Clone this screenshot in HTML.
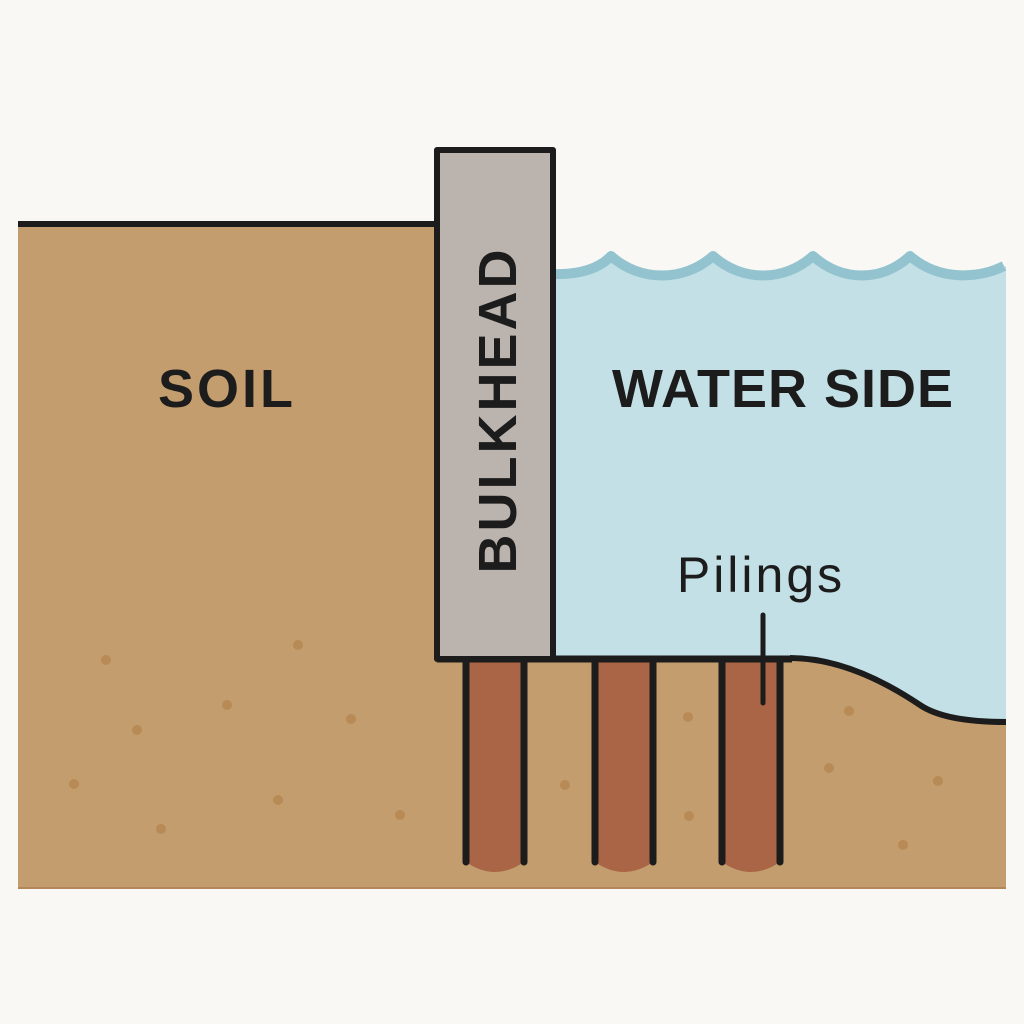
<!DOCTYPE html>
<html><head><style>body{margin:0;background:#f9f8f4}</style></head><body>
<svg width="1024" height="1024" viewBox="0 0 1024 1024" xmlns="http://www.w3.org/2000/svg" style="display:block">
<rect width="1024" height="1024" fill="#f9f8f4"/>
<rect x="18" y="224" width="440" height="664" fill="#c39d6d"/>
<rect x="18" y="640" width="988" height="248" fill="#c39d6d"/>
<line x1="18" y1="888" x2="1006" y2="888" stroke="#b4875a" stroke-width="2"/>
<path d="M553 274 C580 275 600 268 611 256 C640 282 684 282 713 256 C742 282 784 282 813 256 C842 282 882 282 910 256 C940 282 980 278 1006 266 L1006 722 Q945 722 920 705 Q850 658 790 658 L553 658 Z" fill="#c3e0e6"/>
<path d="M553 274 C580 275 600 268 611 256 C640 282 684 282 713 256 C742 282 784 282 813 256 C842 282 882 282 910 256 C940 282 980 278 1004 266" fill="none" stroke="#93c3cf" stroke-width="10" stroke-linejoin="round"/>
<path d="M790 658 Q850 658 920 705 Q945 722 1006 722" fill="none" stroke="#1c1c1c" stroke-width="6"/>
<line x1="18" y1="224" x2="437" y2="224" stroke="#1c1c1c" stroke-width="6"/>
<g fill="#aa6446">
<path d="M466 660 H524 V862 Q495 882 466 862 Z"/>
<path d="M595 660 H653 V862 Q624 882 595 862 Z"/>
<path d="M722 660 H780 V862 Q751 882 722 862 Z"/>
</g>
<g stroke="#1c1c1c" stroke-width="7" stroke-linecap="round">
<line x1="466" y1="660" x2="466" y2="862"/><line x1="524" y1="660" x2="524" y2="862"/>
<line x1="595" y1="660" x2="595" y2="862"/><line x1="653" y1="660" x2="653" y2="862"/>
<line x1="722" y1="660" x2="722" y2="862"/><line x1="780" y1="660" x2="780" y2="862"/>
<line x1="763" y1="615" x2="763" y2="703" stroke-width="5"/>
</g>
<line x1="437" y1="659" x2="792" y2="659" stroke="#1c1c1c" stroke-width="7"/>
<rect x="437" y="150" width="116" height="509" fill="#bab3ae" stroke="#1c1c1c" stroke-width="6" stroke-linejoin="round"/>
<g fill="#b88a55">
<circle cx="106" cy="660" r="5"/><circle cx="298" cy="645" r="5"/><circle cx="227" cy="705" r="5"/><circle cx="137" cy="730" r="5"/><circle cx="351" cy="719" r="5"/><circle cx="74" cy="784" r="5"/><circle cx="278" cy="800" r="5"/><circle cx="161" cy="829" r="5"/><circle cx="400" cy="815" r="5"/><circle cx="565" cy="785" r="5"/><circle cx="688" cy="717" r="5"/><circle cx="689" cy="816" r="5"/><circle cx="849" cy="711" r="5"/><circle cx="829" cy="768" r="5"/><circle cx="938" cy="781" r="5"/><circle cx="903" cy="845" r="5"/>
</g>
<g font-family="Liberation Sans, sans-serif" font-weight="bold" fill="#1c1c1c">
<text x="227" y="407" font-size="54" letter-spacing="3" text-anchor="middle">SOIL</text>
<text x="783" y="407" font-size="54" letter-spacing="1" text-anchor="middle">WATER SIDE</text>
<text transform="translate(516,410) rotate(-90)" font-size="54" letter-spacing="3" text-anchor="middle">BULKHEAD</text>
</g>
<text x="761" y="592" font-family="Liberation Sans, sans-serif" font-size="50" letter-spacing="3" fill="#1c1c1c" text-anchor="middle">Pilings</text>
</svg>
</body></html>
